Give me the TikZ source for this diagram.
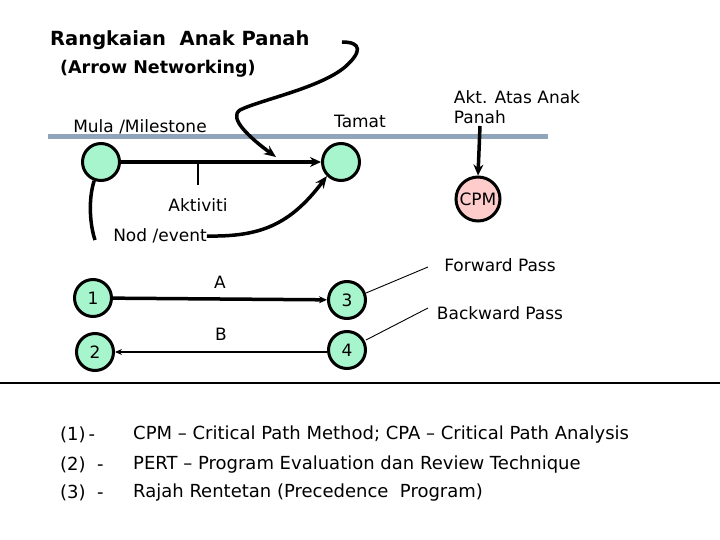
\documentclass[tikz,border=0pt]{standalone}
\usepackage{fontspec}
\setmainfont{DejaVu Sans}
\usetikzlibrary{arrows.meta}
\definecolor{ngreen}{HTML}{A6F5CC}
\definecolor{npink}{HTML}{FFCCCC}
\definecolor{barc}{HTML}{90A4BA}
\begin{document}
\begin{tikzpicture}[x=1pt,y=-1pt,
  gnode/.style={circle,draw,line width=3pt,fill=ngreen,minimum size=37pt,inner sep=0pt,font=\fontsize{17}{20}\selectfont},
  lbl/.style={font=\fontsize{17}{20}\selectfont,inner sep=0pt},
  big/.style={font=\fontsize{18}{21}\selectfont,inner sep=0pt,anchor=west},
  thick arrow/.style={line width=4pt,-{Stealth[length=11pt,width=10pt]}},
  curv/.style={line width=3.5pt,-{Stealth[length=12pt,width=10pt]}}]
\useasboundingbox[fill=white] (0,0) rectangle (720,540);
\draw[barc,line width=5pt] (48,137) -- (548,137);
\draw[line width=1.2pt] (0,383) -- (720,383);
\node[inner sep=0pt,anchor=west,font=\bfseries\fontsize{19.5}{23}\selectfont] (title) at (50,40) {Rangkaian\ \ Anak Panah};
\node[inner sep=0pt,anchor=west,font=\bfseries\fontsize{17.5}{20}\selectfont] (sub) at (60,69) {(Arrow Networking)};
\node[lbl] (mula) at (140,127) {Mula /Milestone};
\node[lbl] (tamat) at (360,121) {Tamat};
\node[lbl,align=left] (akt) at (517,107) {Akt. Atas Anak\\Panah};
\node[gnode] (s) at (101,162) {};
\node[gnode] (e) at (341,162) {};
\node[gnode,fill=npink,minimum size=44pt] (cpm) at (478,199) {CPM};
\draw[thick arrow] (s) -- (e);
\coordinate (tk) at (198,163);
\coordinate (tkb) at (198,185);
\draw[line width=1.2pt] (tk) -- (tkb);
\node[lbl] (akv) at (198,205) {Aktiviti};
\node[lbl] (nod) at (160,236) {Nod /event};
\coordinate (c0) at (342,42);
\draw[curv] (c0) .. controls (362,42) and (362,52) .. (345,67) .. controls (320,88) and (260,100) .. (240,110) .. controls (228,118) and (250,138) .. (276,157);
\draw[line width=3.5pt] (s.250) .. controls (88,200) and (90,225) .. (95,240);
\draw[curv] (nod.east) .. controls (260,237) and (290,225) .. (e.225);
\draw[line width=3.5pt,-{Stealth[length=11pt,width=10pt]}] (480,126) -- (cpm.north);
\node[gnode] (n1) at (93,298) {1};
\node[gnode] (n3) at (347,300) {3};
\node[gnode] (n2) at (95,352) {2};
\node[gnode] (n4) at (347,350) {4};
\draw[line width=3.5pt,-{Stealth[length=8pt,width=7pt]}] (n1) -- (n3) node[midway,above=9pt,lbl] (la) {A};
\draw[line width=2pt,-{Stealth[length=7pt,width=6pt]}] (n4.west |- n2) -- (n2) node[midway,above=11pt,lbl] (lb) {B};
\node[lbl] (fp) at (500,265) {Forward Pass};
\node[lbl] (bp) at (500,313) {Backward Pass};
\draw[line width=0.9pt] (366,293) -- (428,267);
\draw[line width=0.9pt] (366,340) -- (428,308);
\node[big] (i1) at (60,435) {(1)\,-};
\node[big] (i2) at (60,465) {(2)\ \ -};
\node[big] (i3) at (60,493) {(3)\ \ -};
\node[big] (t1) at (133,435) {CPM – Critical Path Method; CPA – Critical Path Analysis};
\node[big] (t2) at (133,465) {PERT – Program Evaluation dan Review Technique};
\node[big] (t3) at (133,493) {Rajah Rentetan (Precedence\ \ Program)};
\end{tikzpicture}
\end{document}
